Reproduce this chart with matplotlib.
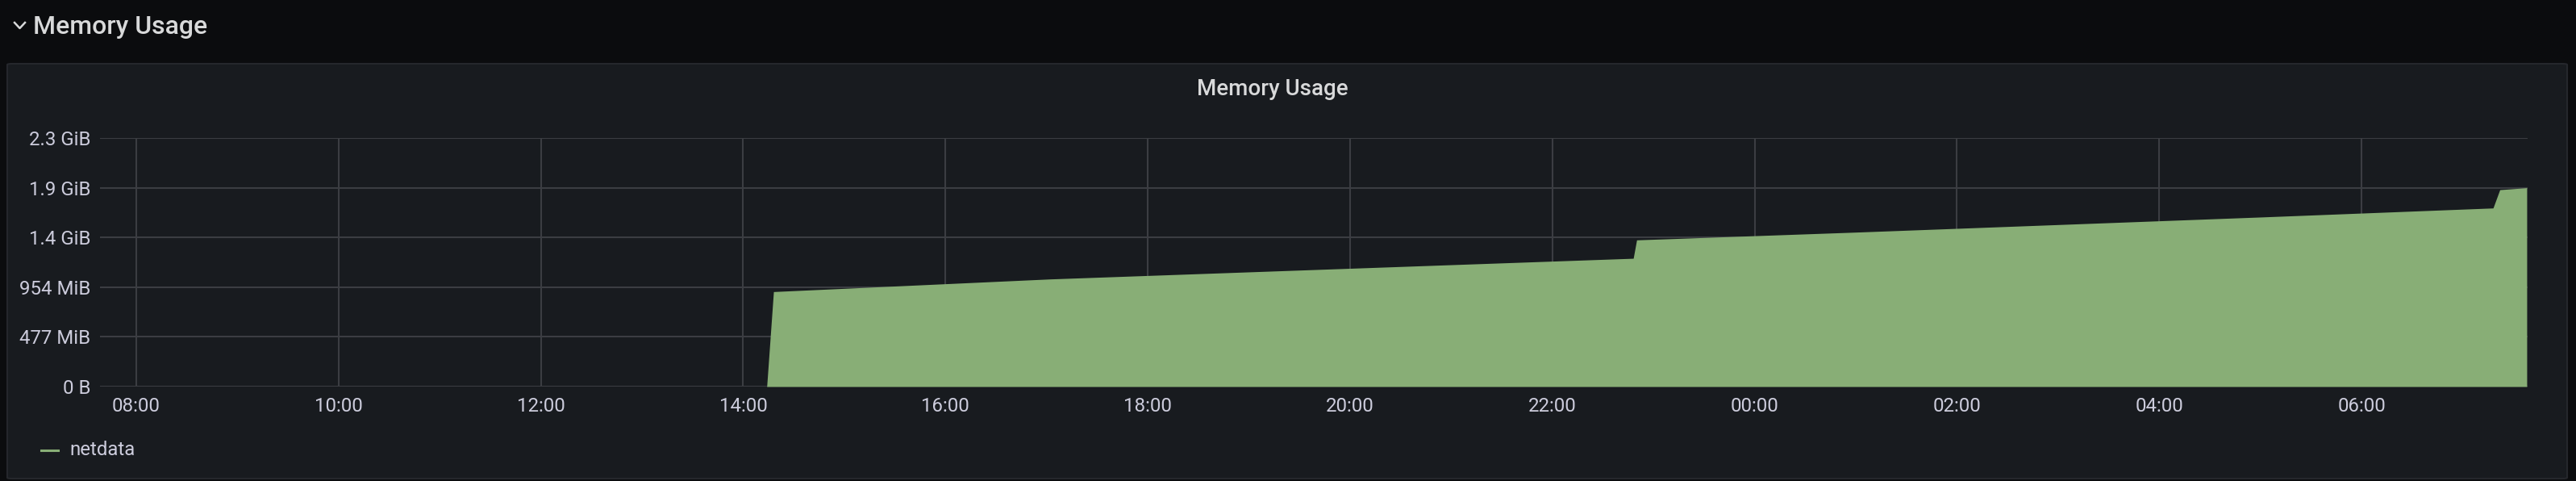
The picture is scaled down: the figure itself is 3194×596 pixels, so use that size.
import matplotlib
matplotlib.use("Agg")
import matplotlib.pyplot as plt
import matplotlib.dates as mdates
from matplotlib.patches import FancyBboxPatch
from matplotlib.lines import Line2D
import pandas as pd

# memory used by netdata (bytes)
times = [
    "2021-05-01 14:14", "2021-05-01 14:18", "2021-05-01 17:02",
    "2021-05-01 21:01", "2021-05-01 22:48", "2021-05-01 22:50",
    "2021-05-02 01:00", "2021-05-02 05:00", "2021-05-02 07:18",
    "2021-05-02 07:22", "2021-05-02 07:38",
]
netdata = [0, 0.955e9, 1.082e9, 1.226e9, 1.290e9, 1.475e9,
           1.553e9, 1.705e9, 1.796e9, 1.980e9, 2.000e9]
y_ticks = [0, 0.5e9, 1.0e9, 1.5e9, 2.0e9, 2.5e9]
range_start = "2021-05-01 07:38:30"
range_end = "2021-05-02 07:38:30"

PAGE = "#0b0c0e"
PANEL = "#181b1f"
GRID = "#3b3d42"
TEXT = "#ccccdc"
GREEN = "#88ae76"

W, H = 3194, 596
plt.rcParams["font.family"] = ["Roboto", "DejaVu Sans"]

fig = plt.figure(figsize=(W / 100, H / 100), dpi=100, facecolor=PAGE)

# panel box
panel = FancyBboxPatch((9 / W, (H - 593) / H), (3183 - 9) / W, (593 - 79) / H,
                       boxstyle="round,pad=0,rounding_size=0.002",
                       transform=fig.transFigure, facecolor=PANEL,
                       edgecolor="#25272c", linewidth=1.5, zorder=-5)
fig.patches.append(panel)

# row header
fig.add_artist(Line2D([18 / W, 24.5 / W, 31 / W], [(H - 28) / H, (H - 35) / H, (H - 28) / H],
                      color="#d8d9da", linewidth=1.8, transform=fig.transFigure))
fig.text(41 / W, (H - 42) / H, "Memory Usage", color="#d8d9da", fontsize=23,
         fontweight="medium", ha="left", va="baseline")

fig.text(1578 / W, (H - 118) / H, "Memory Usage", color="#d8d9da", fontsize=20,
         fontweight="medium", ha="center", va="baseline")

ax = fig.add_axes([124 / W, (H - 479) / H, (3134 - 124) / W, (479 - 171) / H])
ax.set_zorder(2)
ax.set_facecolor(PANEL)

t = pd.to_datetime(times)
ax.fill_between(t, netdata, 0, color=GREEN, linewidth=0, zorder=3)

ax.set_xlim(pd.Timestamp(range_start), pd.Timestamp(range_end))
ax.set_ylim(0, y_ticks[-1])
ax.set_yticks(y_ticks)


def fmt_bytes(v, pos=None):
    if v == 0:
        return "0 B"
    if v >= 1024 ** 3:
        return f"{v / 1024 ** 3:.1f} GiB"
    return f"{v / 1024 ** 2:.0f} MiB"


ax.yaxis.set_major_formatter(plt.FuncFormatter(fmt_bytes))
ax.xaxis.set_major_locator(mdates.HourLocator(byhour=range(0, 24, 2)))
ax.xaxis.set_major_formatter(mdates.DateFormatter("%H:%M"))

ax.grid(True, color=GRID, linewidth=1.5, zorder=0)
ax.set_axisbelow(True)
for s in ax.spines.values():
    s.set_visible(False)
ax.tick_params(axis="both", length=0, colors=TEXT, labelsize=17.3)
ax.tick_params(axis="x", pad=9)
ax.tick_params(axis="y", pad=8.5)

# legend
fig.add_artist(Line2D([51 / W, 72 / W], [(H - 557.5) / H] * 2, color=GREEN,
                      linewidth=2.2, transform=fig.transFigure))
fig.text(86.5 / W, (H - 564) / H, "netdata", color=TEXT, fontsize=17.3,
         ha="left", va="baseline")

fig.savefig("out.png", dpi=100, facecolor=PAGE)
